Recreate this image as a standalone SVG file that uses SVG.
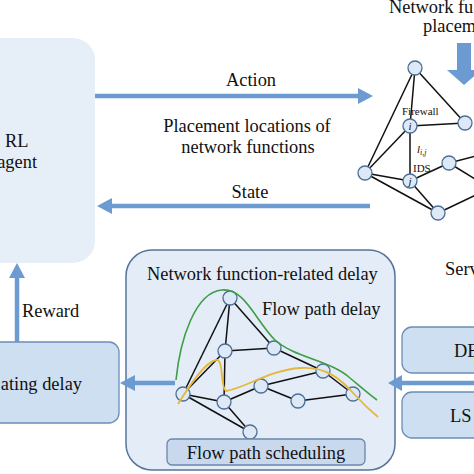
<svg xmlns="http://www.w3.org/2000/svg" width="474" height="474" viewBox="0 0 474 474">
<style>
text{font-family:"Liberation Serif","Times New Roman",serif;fill:#111}
.t{font-size:18.4px}
.s{font-size:11px}
.arr{stroke:#6c9bd2;stroke-width:4.5;fill:none}
.head{fill:#6c9bd2}
.e{stroke:#111;stroke-width:1.5;fill:none}
.n{fill:#dde9f6;stroke:#4d6e95;stroke-width:1.3}
.box{fill:#cddff1;stroke:#6b8db5;stroke-width:1.3}
</style>
<rect width="474" height="474" fill="#fff"/>

<g id="rl-agent">
<rect x="-30" y="38" width="125" height="225" rx="22" fill="#e6eef8"/>
<text class="t" x="5" y="147">RL</text>
<text class="t" x="37" y="168" text-anchor="end">agent</text>
</g>

<g id="delay-box">
<rect class="box" x="-20" y="342" width="139" height="81" rx="10"/>
<text class="t" x="82" y="390" text-anchor="end">ating delay</text>
</g>

<g id="right-boxes">
<text class="t" x="445" y="275">Serv</text>
<rect class="box" x="402" y="327" width="100" height="46" rx="10"/>
<text class="t" x="454" y="357">DE</text>
<rect class="box" x="402" y="392" width="100" height="46" rx="10"/>
<text class="t" x="450" y="422">LS</text>
</g>

<g id="top-right-label">
<text class="t" x="389" y="13">Network fu</text>
<text class="t" x="423" y="32">placem</text>
<polygon class="head" points="457,43 471,43 471,70 481,70 464,85 447,70 457,70"/>
</g>

<g id="network-graph">
<g class="e">
<line x1="415" y1="68" x2="410" y2="126"/>
<line x1="415" y1="68" x2="365" y2="173"/>
<line x1="415" y1="68" x2="465" y2="123"/>
<line x1="410" y1="126" x2="465" y2="123"/>
<line x1="410" y1="126" x2="365" y2="173"/>
<line x1="410" y1="126" x2="410" y2="181"/>
<line x1="365" y1="173" x2="410" y2="181"/>
<line x1="365" y1="173" x2="438" y2="213"/>
<line x1="410" y1="181" x2="438" y2="213"/>
<line x1="410" y1="181" x2="449" y2="163"/>
<line x1="449" y1="163" x2="480" y2="155"/>
<line x1="449" y1="163" x2="480" y2="182"/>
<line x1="438" y1="213" x2="480" y2="193"/>
</g>
<circle class="n" cx="415" cy="68" r="7"/>
<circle class="n" cx="410" cy="126" r="7"/>
<circle class="n" cx="465" cy="123" r="7"/>
<circle class="n" cx="365" cy="173" r="7"/>
<circle class="n" cx="410" cy="181" r="7"/>
<circle class="n" cx="449" cy="163" r="7"/>
<circle class="n" cx="438" cy="213" r="7"/>
<text class="s" x="402" y="115">Firewall</text>
<text class="s" x="413" y="172">IDS</text>
<text class="s" x="410" y="130" text-anchor="middle" font-style="italic">i</text>
<text class="s" x="410" y="185" text-anchor="middle" font-style="italic">j</text>
<text class="s" x="417" y="153" font-style="italic">l<tspan font-size="8" dy="2">i,j</tspan></text>
</g>

<g id="delay-container">
<rect x="126" y="250" width="269" height="220" rx="26" fill="#e3ecf7" stroke="#56749a" stroke-width="1.5"/>
<text class="t" x="147" y="280">Network function-related delay</text>
<text class="t" x="262" y="315">Flow path delay</text>
<g class="e">
<line x1="230" y1="298" x2="183" y2="394"/>
<line x1="230" y1="298" x2="225" y2="351"/>
<line x1="230" y1="298" x2="274" y2="348"/>
<line x1="225" y1="351" x2="274" y2="348"/>
<line x1="225" y1="351" x2="183" y2="394"/>
<line x1="225" y1="351" x2="224" y2="402"/>
<line x1="274" y1="348" x2="323" y2="371"/>
<line x1="323" y1="371" x2="353" y2="394"/>
<line x1="183" y1="394" x2="224" y2="402"/>
<line x1="183" y1="394" x2="250" y2="432"/>
<line x1="224" y1="402" x2="250" y2="432"/>
<line x1="224" y1="402" x2="261" y2="386"/>
<line x1="261" y1="386" x2="323" y2="371"/>
<line x1="261" y1="386" x2="298" y2="401"/>
<line x1="298" y1="401" x2="353" y2="394"/>
</g>
<circle class="n" cx="230" cy="298" r="7"/>
<circle class="n" cx="225" cy="351" r="7"/>
<circle class="n" cx="274" cy="348" r="7"/>
<circle class="n" cx="323" cy="371" r="7"/>
<circle class="n" cx="183" cy="394" r="7"/>
<circle class="n" cx="224" cy="402" r="7"/>
<circle class="n" cx="261" cy="386" r="7"/>
<circle class="n" cx="298" cy="401" r="7"/>
<circle class="n" cx="353" cy="394" r="7"/>
<circle class="n" cx="250" cy="432" r="7"/>
<path d="M176,380 C180,340 195,292 222,290 C245,288 255,320 275,340 C295,358 330,360 350,378 C362,388 370,395 377,400" fill="none" stroke="#3f9e45" stroke-width="1.6"/>
<path d="M178,404 C190,385 205,362 216,360 C224,358 220,388 226,391 C245,388 270,370 300,368 C325,366 340,378 355,395 C365,406 372,412 378,417" fill="none" stroke="#e6b83a" stroke-width="1.8"/>
<rect x="167" y="439" width="198" height="26" rx="5" fill="#c8d9ee" stroke="#6a86ab" stroke-width="1.3"/>
<text class="t" x="266" y="459" text-anchor="middle">Flow path scheduling</text>
</g>

<g id="connectors">
<line class="arr" x1="95" y1="96" x2="359" y2="96"/>
<polygon class="head" points="358,88 373,96 358,104"/>
<text class="t" x="251" y="86" text-anchor="middle">Action</text>
<text class="t" x="247" y="132" text-anchor="middle">Placement locations of</text>
<text class="t" x="248" y="153" text-anchor="middle">network functions</text>
<line class="arr" x1="370" y1="206" x2="111" y2="206"/>
<polygon class="head" points="112,198 97,206 112,214"/>
<text class="t" x="250" y="198" text-anchor="middle">State</text>
<line class="arr" x1="17" y1="342" x2="17" y2="277"/>
<polygon class="head" points="9,278 17,263 25,278"/>
<text class="t" x="22" y="317">Reward</text>
<line class="arr" x1="175" y1="383" x2="134" y2="383"/>
<polygon class="head" points="135,375 120,383 135,391"/>
<line class="arr" x1="480" y1="383" x2="401" y2="383"/>
<polygon class="head" points="402,375 388,383 402,391"/>
</g>
</svg>
